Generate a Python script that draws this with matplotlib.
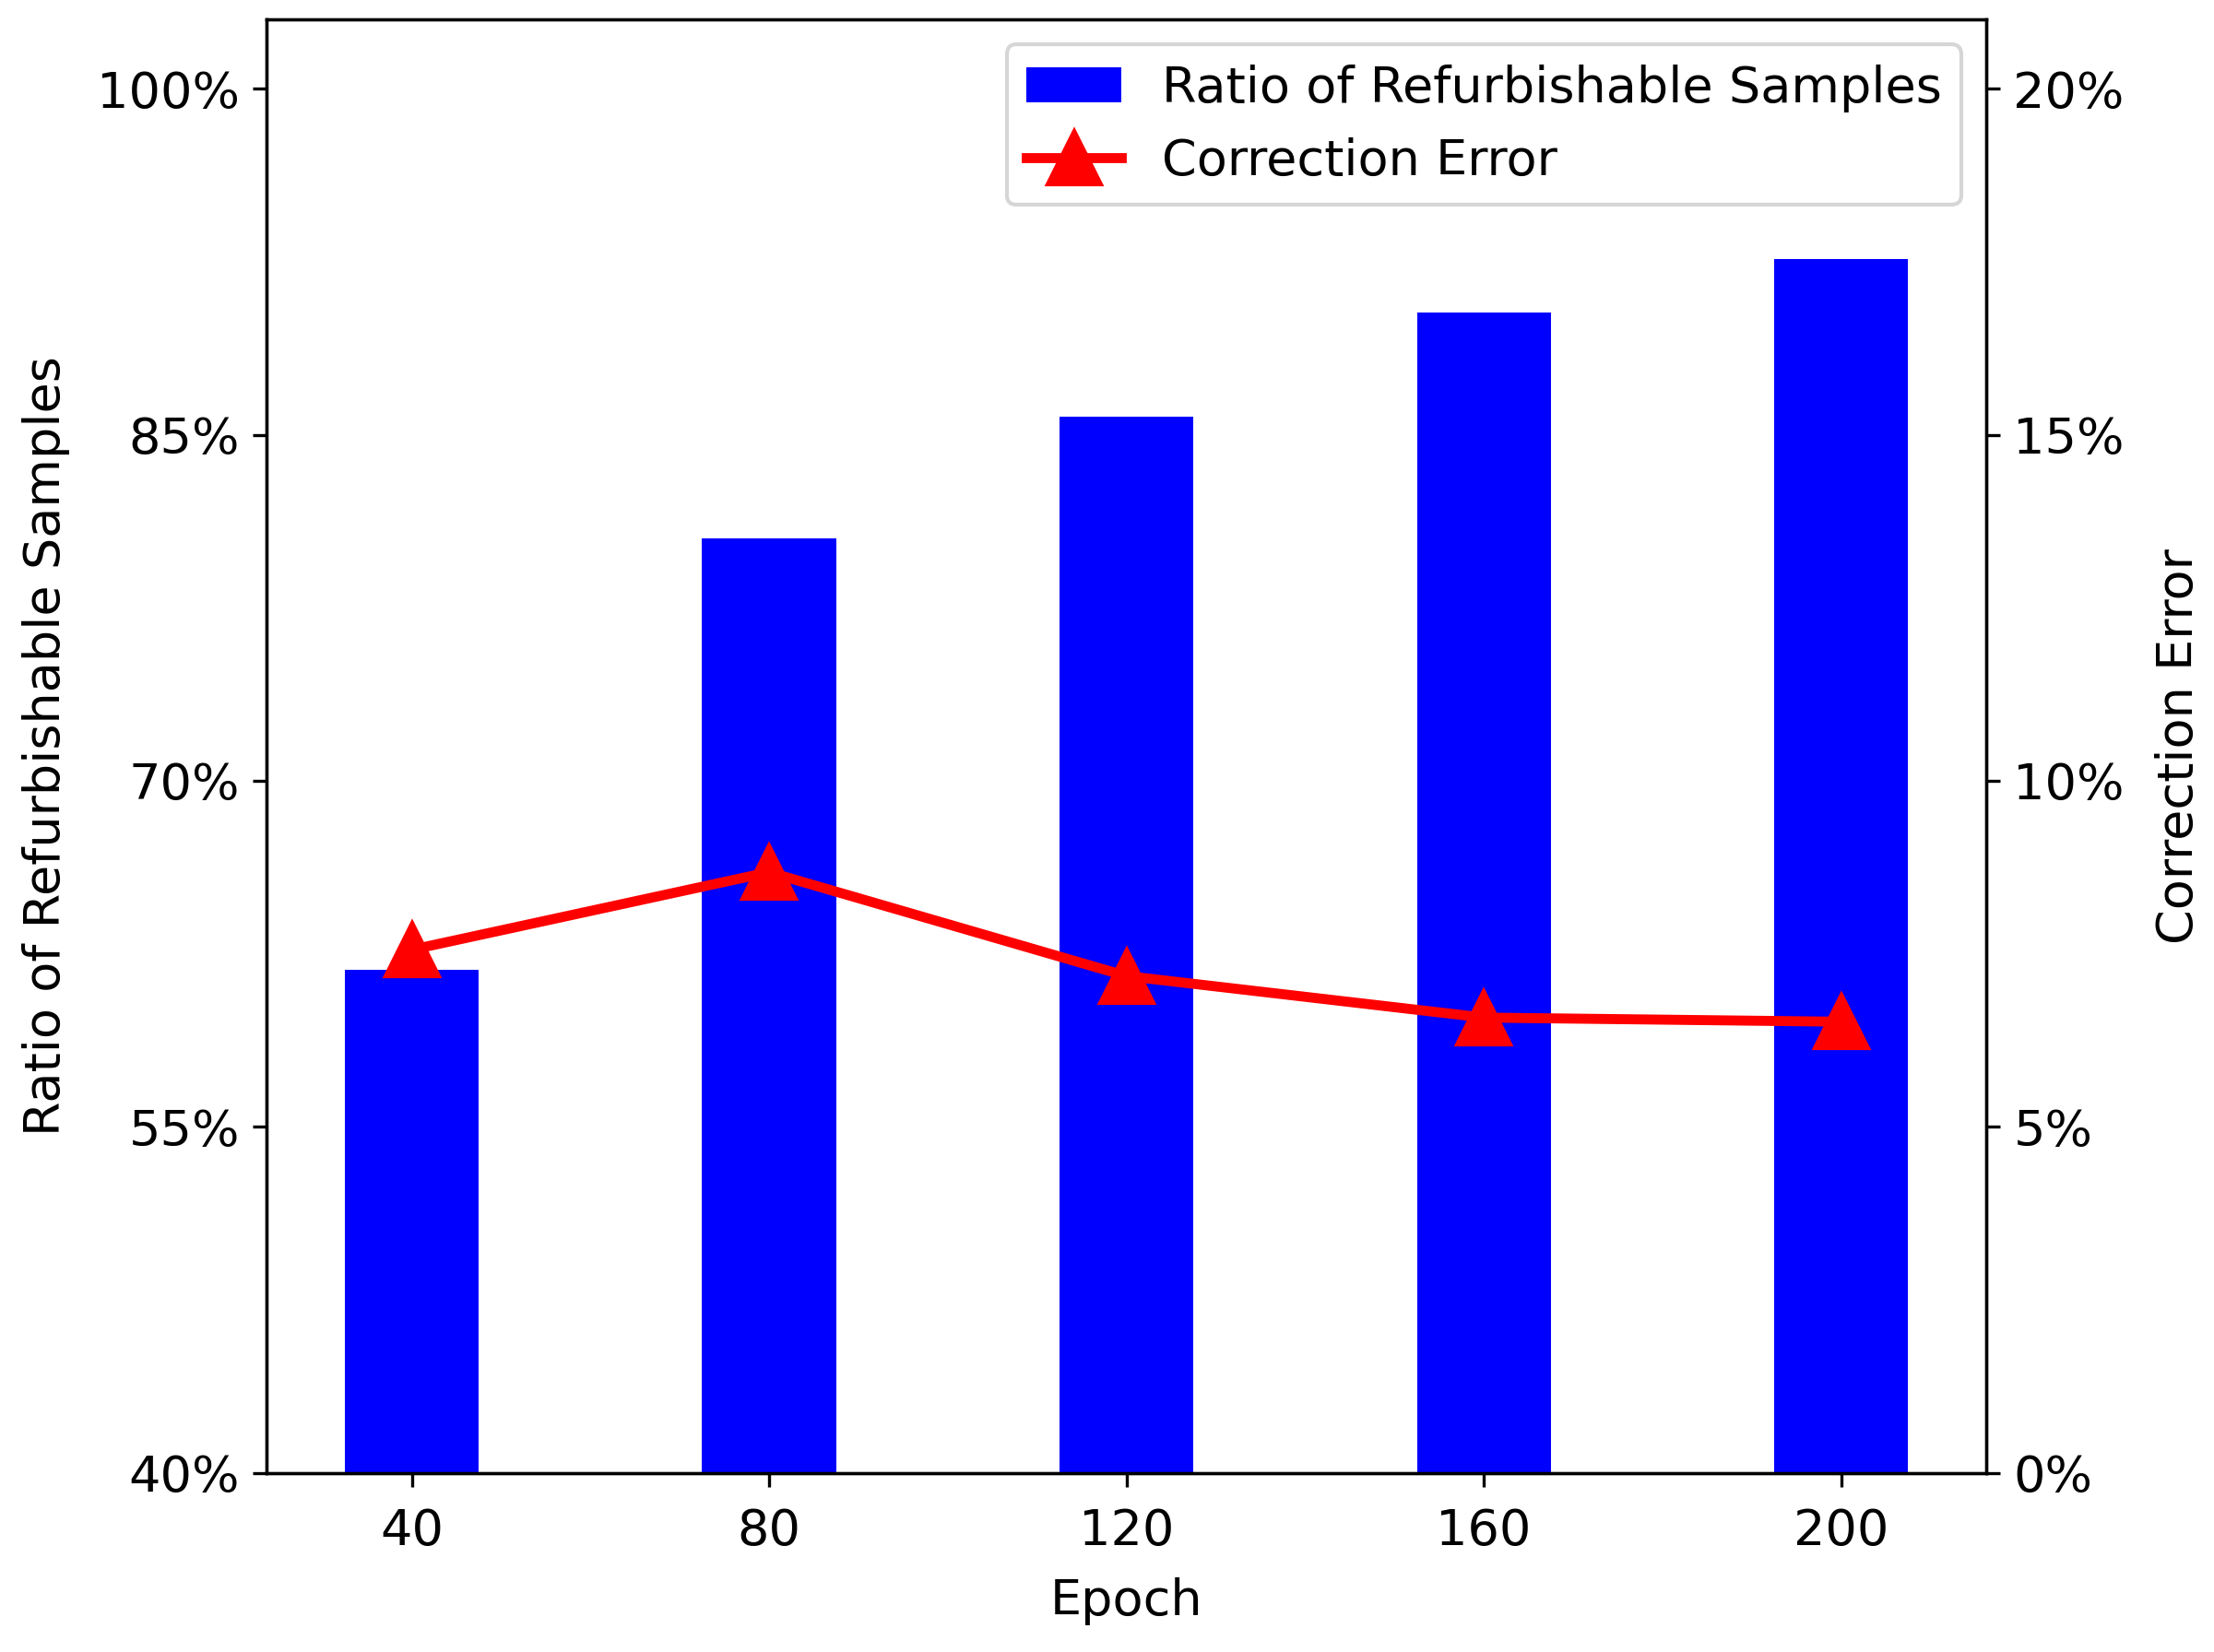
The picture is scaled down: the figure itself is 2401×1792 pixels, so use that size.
import matplotlib
matplotlib.use("Agg")
import matplotlib.pyplot as plt
from matplotlib.ticker import FuncFormatter

epochs = [40, 80, 120, 160, 200]
ratio = [61.8, 80.5, 85.8, 90.3, 92.6]      # % refurbishable samples
corr_err = [7.56, 8.68, 7.18, 6.58, 6.52]   # % correction error

plt.rcParams['font.size'] = 13

fig = plt.figure(figsize=(2401 / 300, 1792 / 300), dpi=300)
ax1 = fig.add_axes([0.1204, 0.1083, 0.7768, 0.88])
ax2 = ax1.twinx()

b = ax1.bar(epochs, ratio, width=15, color='blue', label='Ratio of Refurbishable Samples')
l, = ax2.plot(epochs, corr_err, '-^', color='red', linewidth=2.6, markersize=14,
              label='Correction Error')

ax1.set_ylim(40, 103)
ax1.set_yticks([40, 55, 70, 85, 100])
ax1.yaxis.set_major_formatter(FuncFormatter(lambda v, p: '%d%%' % v))
ax2.set_ylim(0, 21)
ax2.set_yticks([0, 5, 10, 15, 20])
ax2.yaxis.set_major_formatter(FuncFormatter(lambda v, p: '%d%%' % v))
ax1.set_xticks(epochs)
ax1.tick_params(axis='x', pad=5.3)

ax1.set_xlabel('Epoch', labelpad=5.8)
ax1.set_ylabel('Ratio of Refurbishable Samples', labelpad=7)
ax2.set_ylabel('Correction Error', labelpad=8)

ax2.legend([b, l], ['Ratio of Refurbishable Samples', 'Correction Error'],
           loc='upper right', handlelength=1.9)

fig.savefig('out.png', dpi=300)
